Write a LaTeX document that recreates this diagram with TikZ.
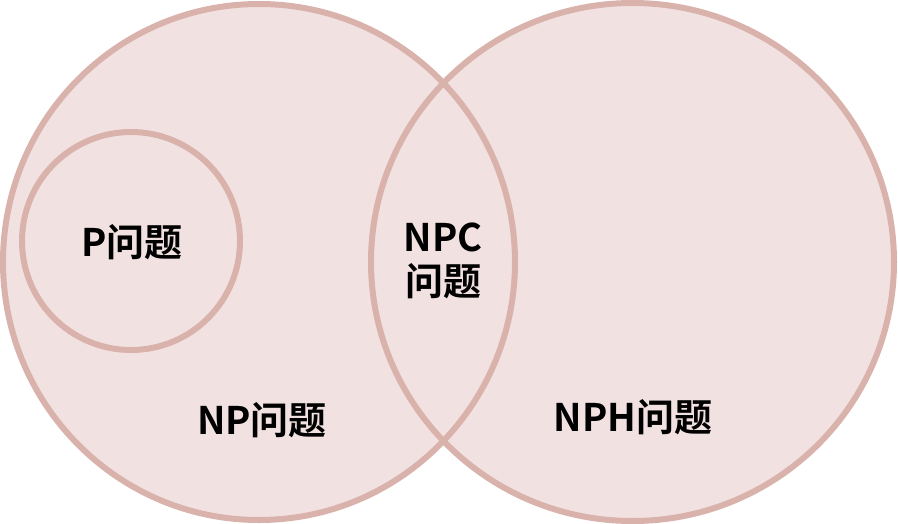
\documentclass[tikz,border=0pt]{standalone}
\usepackage{fontspec}
\newfontfamily\cjk{Noto Sans CJK SC}[BoldFont={Noto Sans CJK SC Bold}]
\definecolor{setedge}{RGB}{217,178,172}
\definecolor{setfill}{RGB}{242,225,225}
\tikzstyle{setfillstyle} = [fill=setfill]
\tikzstyle{setline} = [draw=setedge, line width=6pt]
\tikzstyle{settext} = [text=black, align=center, inner sep=0pt, font=\cjk\bfseries\fontsize{38}{44}\selectfont]

\begin{document}
\begin{tikzpicture}[x=1pt, y=-1pt]
\useasboundingbox (0,0) rectangle (898,523);

% the two big sets
\fill [setfillstyle] (259,262) ellipse (256 and 258);
\fill [setfillstyle] (632.5,262) ellipse (261.5 and 259);
\draw [setline] (259,262) ellipse (256 and 258);
\draw [setline] (632.5,262) ellipse (261.5 and 259);
\draw [setline] (131,241) circle (109);

\node at (132, 242) (p) [settext] {P问题};
\node at (443, 261) (npc) [settext] {NPC\\问题};
\node at (262, 420) (np) [settext] {NP问题};
\node at (633, 417) (nph) [settext] {NPH问题};

\end{tikzpicture}
\end{document}
